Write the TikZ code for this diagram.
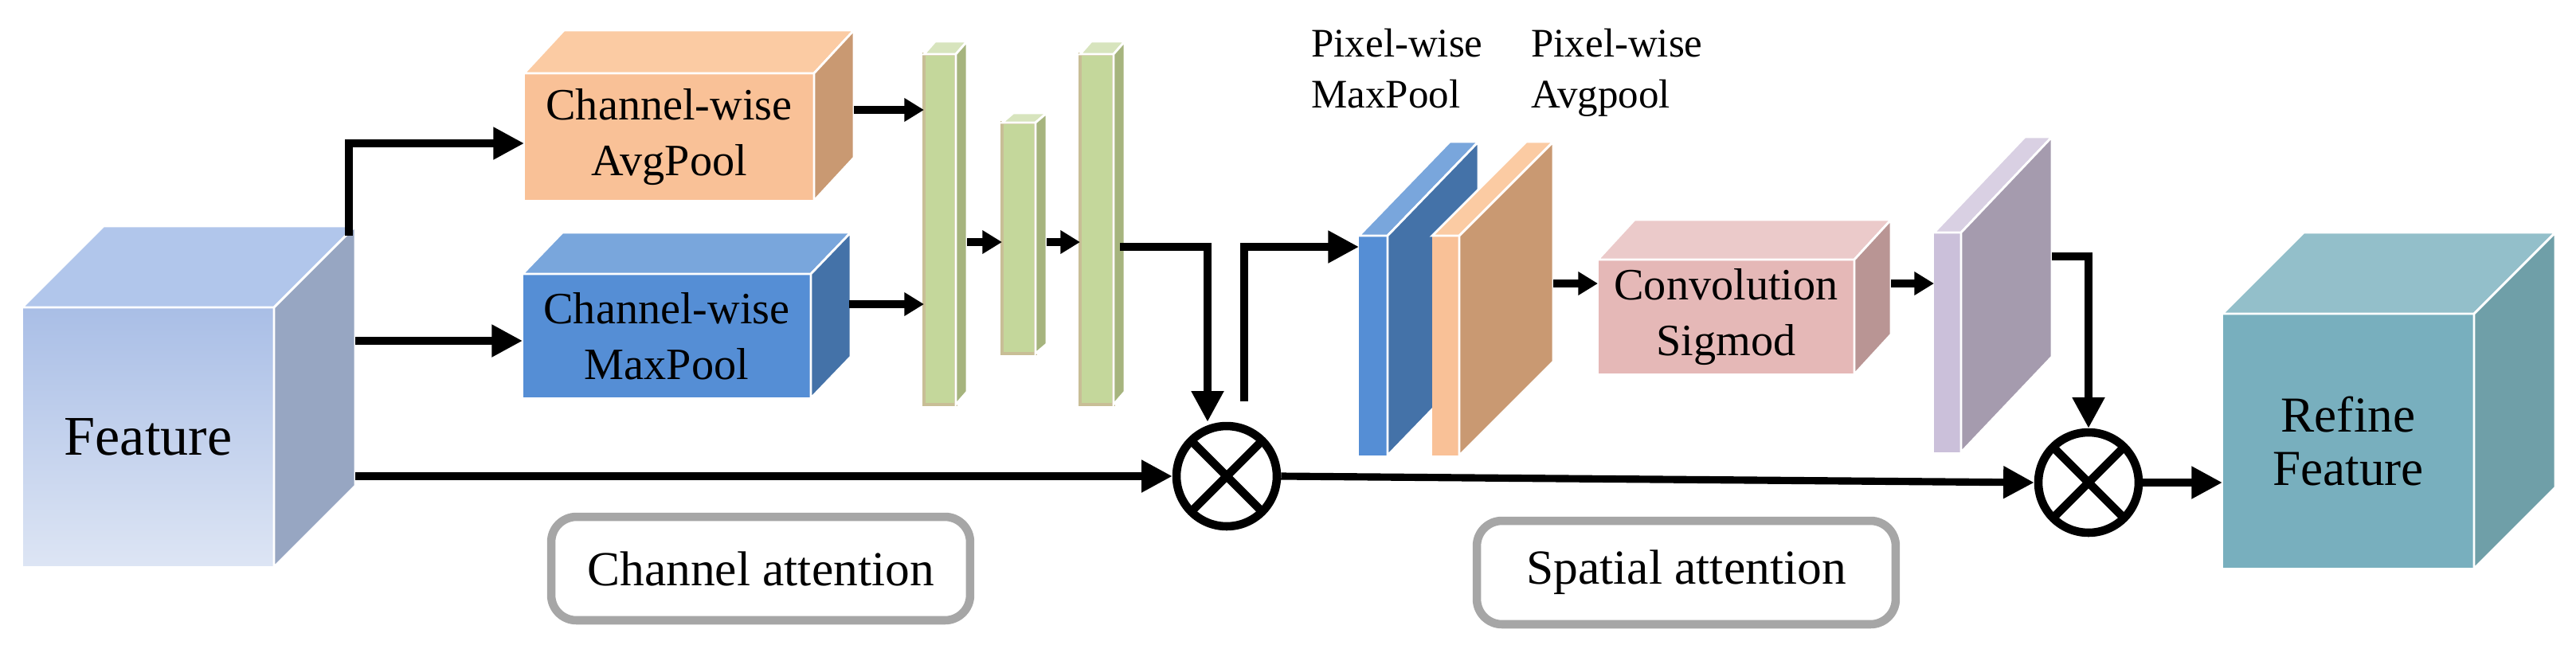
\documentclass[tikz,border=0pt]{standalone}
\usepackage{fontspec}
\setmainfont{Liberation Serif}
\usetikzlibrary{arrows.meta,fit}
\definecolor{fF1}{HTML}{A9BEE6}\definecolor{fF2}{HTML}{DDE5F4}\definecolor{fT}{HTML}{B1C6EB}\definecolor{fR}{HTML}{97A6C2}
\definecolor{aF}{HTML}{F9C197}\definecolor{aT}{HTML}{FBCBA3}\definecolor{aR}{HTML}{C99972}
\definecolor{mF}{HTML}{558ED5}\definecolor{mT}{HTML}{79A6DC}\definecolor{mR}{HTML}{4472A8}
\definecolor{gF}{HTML}{C4D79B}\definecolor{gT}{HTML}{D7E4BD}\definecolor{gR}{HTML}{A6B47E}\definecolor{gB}{HTML}{C8BE96}
\definecolor{cF}{HTML}{E5B8B7}\definecolor{cT}{HTML}{EBCACA}\definecolor{cR}{HTML}{B99594}
\definecolor{pF}{HTML}{CBC0DA}\definecolor{pT}{HTML}{D9D0E3}\definecolor{pR}{HTML}{A59BAE}
\definecolor{rF}{HTML}{78AFBE}\definecolor{rT}{HTML}{93BFCA}\definecolor{rR}{HTML}{6F9FA8}
\definecolor{lbl}{HTML}{A6A6A6}
% #1 name #2 x1 #3 y1 #4 x2 #5 y2 #6 dx #7 dy #8 front style #9 {top/right} colours
\newcommand\mybox[9]{%
  \node[fit={(#2,#3)(#4,#5)},inner sep=0pt,outer sep=0pt,#8] (#1) {};
  \def\tmpcolors{#9}%
  \expandafter\myboxfaces\tmpcolors\relax{#2}{#3}{#4}{#5}{#6}{#7}}
\def\myboxfaces#1/#2\relax#3#4#5#6#7#8{%
  \fill[#1,draw=white,line width=0.8pt] (#3,#4) -- (#3+#7,#4-#8) -- (#5+#7,#4-#8) -- (#5,#4) -- cycle;
  \fill[#2,draw=white,line width=0.8pt] (#5,#4) -- (#5+#7,#4-#8) -- (#5+#7,#6-#8) -- (#5,#6) -- cycle;}
\tikzset{
  arr/.style={line width=2.6pt,-{Triangle[length=11pt,width=11pt]}},
  sarr/.style={line width=2.6pt,-{Triangle[length=7pt,width=8pt]}},
  ln/.style={line width=2.6pt},
  otimes/.style={circle,draw,line width=3pt,minimum size=1.26cm,inner sep=0pt,
    path picture={\draw[line width=3pt] (path picture bounding box.north west)--(path picture bounding box.south east)
      (path picture bounding box.north east)--(path picture bounding box.south west);}},
  lab/.style={draw=lbl,line width=3pt,rounded corners=9pt,inner sep=0pt,fill=white},
  txt/.style={font=\fontsize{16}{20}\selectfont,align=center},
  green/.style={fill=gF,draw=gB,line width=1pt},
}
\begin{document}
\begin{tikzpicture}[x=0.02cm,y=-0.02cm]
\useasboundingbox (0,0) rectangle (1617,404.5);
% Feature
\mybox{feat}{14}{193}{172}{356}{51}{51}{top color=fF1,bottom color=fF2,draw=white,line width=0.8pt}{fT/fR}
\node[txt,font=\fontsize{20}{24}\selectfont] at (feat.center) {Feature};
% AvgPool / MaxPool
\mybox{avg}{329}{46}{511}{126}{25}{27}{fill=aF,draw=white,line width=0.8pt}{aT/aR}
\node[txt] at (avg.center) {Channel-wise\\AvgPool};
\mybox{max}{328}{172}{509}{250}{25}{26}{fill=mF,draw=white,line width=0.8pt}{mT/mR}
\node[txt] at (max.center) {Channel-wise\\MaxPool};
% green bars
\mybox{b1}{580}{34}{600}{254}{7}{8}{green}{gT/gR}
\mybox{b2}{629}{77}{650}{222}{7}{6}{green}{gT/gR}
\mybox{b3}{678}{34}{699}{254}{7}{8}{green}{gT/gR}
% otimes
\node[otimes] (o1) at (770,299) {};
\node[otimes] (o2) at (1311,303) {};
% slices
\mybox{sb}{853}{148}{871}{286}{57}{59}{fill=mF}{mT/mR}
\mybox{so}{899}{148}{916}{286}{59}{59}{fill=aF}{aT/aR}
\node[txt,align=left,font=\fontsize{14.5}{18}\selectfont,anchor=north west] (tm) at (817,12) {Pixel-wise\\MaxPool};
\node[txt,align=left,font=\fontsize{14.5}{18}\selectfont,anchor=north west] (ta) at (955,12) {Pixel-wise\\Avgpool};
\mybox{conv}{1003}{163}{1164}{235}{23}{25}{fill=cF,draw=white,line width=0.8pt}{cT/cR}
\node[txt] at (conv.center) {Convolution\\Sigmod};
\mybox{sp}{1214}{146}{1231}{284}{57}{60}{fill=pF}{pT/pR}
% Refine
\mybox{ref}{1395}{197}{1553}{357}{51}{51}{fill=rF,draw=white,line width=0.8pt}{rT/rR}
\node[txt,font=\fontsize{18}{19}\selectfont] at (ref.center) {Refine\\Feature};
% labels
\node[lab,minimum width=5.26cm,minimum height=1.3cm] (cl) at (477.5,357) {};
\node[txt,font=\fontsize{17.5}{20}\selectfont] at (cl.center) {Channel attention};
\node[lab,minimum width=5.26cm,minimum height=1.3cm] (sl) at (1058.5,359.5) {};
\node[txt,font=\fontsize{17.5}{20}\selectfont] at (sl.center) {Spatial attention};
% connectors
\coordinate (fu) at (219,148);
\draw[arr] (fu) |- (avg.west |- 0,90);
\draw[arr] (feat.east |- 0,214) ++(51,0) -- (max.west |- 0,214);
\draw[sarr] (536,69) -- (b1.west |- 0,69);
\draw[sarr] (533,191) -- (b1.west |- 0,191);
\draw[sarr] (b1.east |- 0,152) ++(7,0) -- (b2.west |- 0,152);
\draw[sarr] (b2.east |- 0,152) ++(7,0) -- (b3.west |- 0,152);
\draw[arr] (b3.east |- 0,155) ++(4,0) -| (o1.north -| 758,0);
\draw[arr] (223,299) -- (o1.west);
\coordinate (ou) at (781,252);
\draw[arr] (ou) |- (sb.west |- 0,155);
\draw[sarr] (975,178) -- (conv.west |- 0,178);
\draw[sarr] (1187,178) -- (sp.west |- 0,178);
\draw[arr] (1288,161) -| (o2.north);
\draw[arr] (o1.east) -- (o2.west);
\draw[arr] (o2.east) -- (ref.west |- o2.east);
\end{tikzpicture}
\end{document}
